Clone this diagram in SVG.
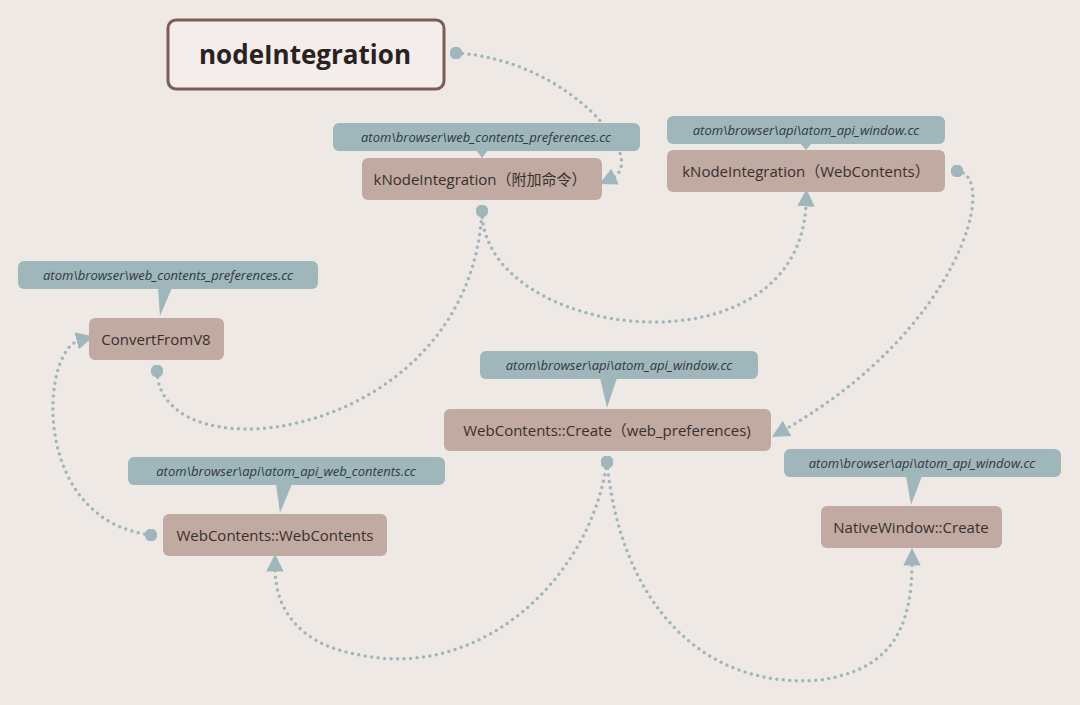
<svg xmlns="http://www.w3.org/2000/svg" width="1080" height="705" viewBox="0 0 1080 705">
<style>
.n{fill:#c0aaa2}
.c{fill:#9fb6bb}
.t{font-family:"Open Sans","Noto Sans","Noto Sans CJK SC",sans-serif;font-size:15px;fill:#3a2f2d;text-anchor:middle;dominant-baseline:central}
.ct{font-family:"Open Sans","Noto Sans",sans-serif;font-size:13px;font-style:italic;fill:#2f3a3d;text-anchor:middle;dominant-baseline:central}
.l{fill:none;stroke:#9fb6bb;stroke-width:3.5;stroke-dasharray:0 6.5;stroke-linecap:round}
</style>
<defs>
<marker id="a" viewBox="0 0 10 10" refX="2" refY="5" markerWidth="5" markerHeight="5" orient="auto" markerUnits="strokeWidth"><path d="M0,0L10,5L0,10z" fill="#9fb6bb"/></marker>
<marker id="d" viewBox="0 0 10 10" refX="5" refY="5" markerWidth="3.6" markerHeight="3.6" markerUnits="strokeWidth"><circle cx="5" cy="5" r="5" fill="#9fb6bb"/></marker>
</defs>
<rect width="1080" height="705" fill="#efe9e6"/>
<g id="connectors">
<path class="l" marker-start="url(#d)" marker-end="url(#a)" d="M456,53 C570,60 650,160 612,178"/>
<path class="l" marker-start="url(#d)" marker-end="url(#a)" d="M482,211 C482,340 800,380 806,203"/>
<path class="l" marker-start="url(#d)" d="M157,371 C160,480 470,440 482,211"/>
<path class="l" marker-start="url(#d)" marker-end="url(#a)" d="M957,171 C1000,175 960,330 784,430"/>
<path class="l" marker-start="url(#d)" marker-end="url(#a)" d="M151,535 C30,520 40,350 80,340"/>
<path class="l" marker-start="url(#d)" marker-end="url(#a)" d="M607,462 C590,580 480,680 360,655 C300,645 275,610 275,568"/>
<path class="l" marker-start="url(#d)" marker-end="url(#a)" d="M607,462 C620,600 700,690 820,680 C890,670 912,630 912,562"/>
</g>
<g id="nodeIntegration">
<rect x="168" y="20" width="276" height="69" rx="8" fill="#f3eeec" stroke="#7b5d58" stroke-width="3"/>
<text x="305" y="54" style="font-family:'Open Sans','Noto Sans',sans-serif;font-size:26px;font-weight:bold;fill:#2b2220;text-anchor:middle;dominant-baseline:central">nodeIntegration</text>
</g>
<g id="kNodeIntegration1">
<rect class="c" x="333" y="123" width="307" height="28" rx="6"/>
<path class="c" d="M476,150L482,158L488,150z"/>
<text class="ct" x="486" y="137">atom\browser\web_contents_preferences.cc</text>
<rect class="n" x="362" y="158" width="240" height="42" rx="6"/>
<text class="t" x="480" y="179">kNodeIntegration（附加命令）</text>
</g>
<g id="kNodeIntegration2">
<rect class="c" x="667" y="116" width="278" height="28" rx="6"/>
<path class="c" d="M800,143L806,150L812,143z"/>
<text class="ct" x="806" y="130">atom\browser\api\atom_api_window.cc</text>
<rect class="n" x="667" y="150" width="278" height="42" rx="6"/>
<text class="t" x="806" y="171">kNodeIntegration（WebContents）</text>
</g>
<g id="ConvertFromV8">
<rect class="c" x="18" y="261" width="300" height="28" rx="6"/>
<path class="c" d="M158,288L160,316L172,288z"/>
<text class="ct" x="168" y="275">atom\browser\web_contents_preferences.cc</text>
<rect class="n" x="89" y="318" width="135" height="42" rx="6"/>
<text class="t" x="156" y="339">ConvertFromV8</text>
</g>
<g id="WebContentsCreate">
<rect class="c" x="480" y="351" width="278" height="28" rx="6"/>
<path class="c" d="M600,378L607,408L617,378z"/>
<text class="ct" x="619" y="365">atom\browser\api\atom_api_window.cc</text>
<rect class="n" x="444" y="409" width="327" height="42" rx="6"/>
<text class="t" x="607" y="430">WebContents::Create（web_preferences)</text>
</g>
<g id="WebContentsWebContents">
<rect class="c" x="128" y="457" width="317" height="28" rx="6"/>
<path class="c" d="M276,484L280,513L292,484z"/>
<text class="ct" x="286" y="471">atom\browser\api\atom_api_web_contents.cc</text>
<rect class="n" x="163" y="514" width="224" height="42" rx="6"/>
<text class="t" x="275" y="535">WebContents::WebContents</text>
</g>
<g id="NativeWindowCreate">
<rect class="c" x="784" y="449" width="277" height="28" rx="6"/>
<path class="c" d="M906,476L911,505L922,476z"/>
<text class="ct" x="922" y="463">atom\browser\api\atom_api_window.cc</text>
<rect class="n" x="821" y="506" width="181" height="42" rx="6"/>
<text class="t" x="911" y="527">NativeWindow::Create</text>
</g>
</svg>
